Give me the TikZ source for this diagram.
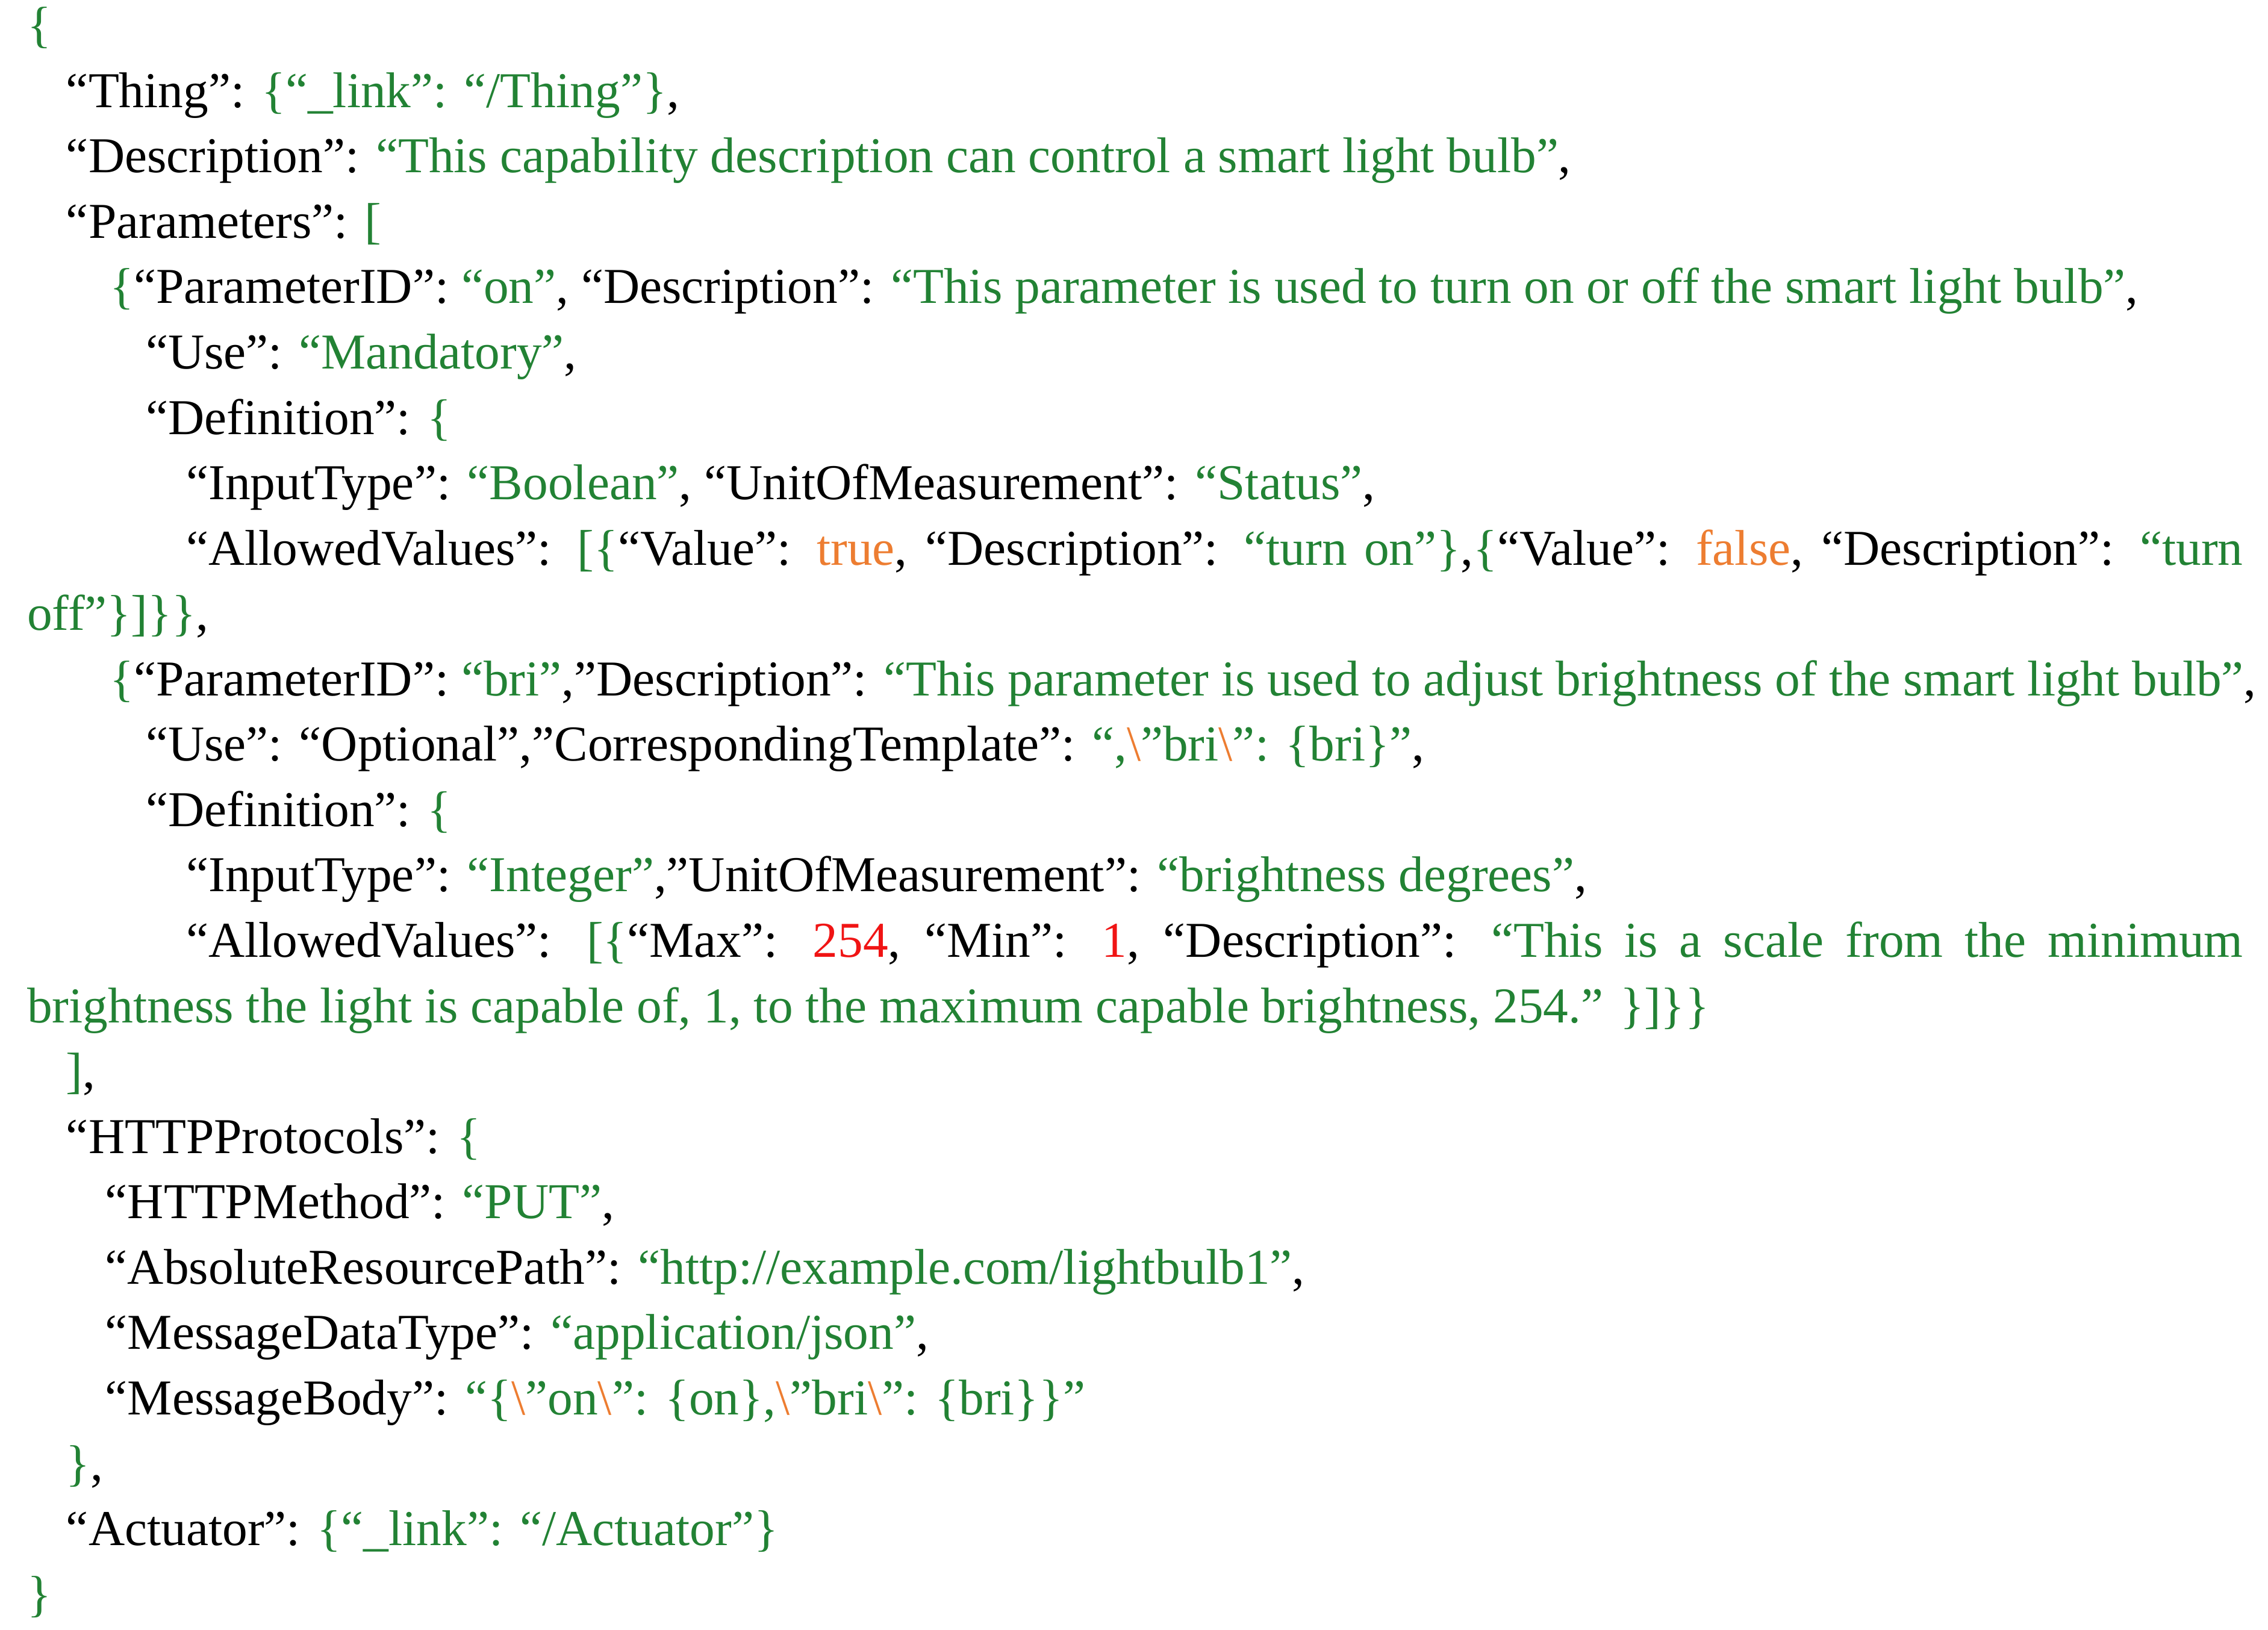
\documentclass[tikz,border=0pt]{standalone}
\usepackage{fontspec}
\setmainfont{Liberation Serif}
\definecolor{jg}{RGB}{34,130,52}
\definecolor{jo}{RGB}{237,125,49}
\definecolor{jr}{RGB}{240,20,20}
\newcommand\gq[1]{\textcolor{jg}{#1}}
\newcommand\oq[1]{\textcolor{jo}{#1}}
\newcommand\redq[1]{\textcolor{jr}{#1}}
\newcommand\bsl{\textbackslash}
\begin{document}
\begin{tikzpicture}[x=0.25pt,y=-0.25pt,
  ln/.style={anchor=base west,inner sep=0pt,font=\fontsize{8.68pt}{10pt}\selectfont}]
\useasboundingbox (0,0) rectangle (1568,1127);
\def\L#1{\fpeval{18+45.2*(#1-1)+11}}
\node[ln] (l1) at (18,{\L{1}}) {\gq{\{}};
\node[ln] (l2) at (45,{\L{2}}) {“Thing”: \gq{\{“\_link”: “/Thing”\}},};
\node[ln] (l3) at (45,{\L{3}}) {“Description”: \gq{“This capability description can control a smart light bulb”},};
\node[ln] (l4) at (45,{\L{4}}) {“Parameters”: \gq{[}};
\node[ln] (l5) at (75,{\L{5}}) {\gq{\{}“ParameterID”: \gq{“on”}, “Description”: \gq{“This parameter is used to turn on or off the smart light bulb”},};
\node[ln] (l6) at (100,{\L{6}}) {“Use”: \gq{“Mandatory”},};
\node[ln] (l7) at (100,{\L{7}}) {“Definition”: \gq{\{}};
\node[ln] (l8) at (128,{\L{8}}) {“InputType”: \gq{“Boolean”}, “UnitOfMeasurement”: \gq{“Status”},};
\node[ln] (l9) at (128,{\L{9}}) {\hbox to 355.5pt{“AllowedValues”: \gq{[\{}“Value”: \oq{true}, “Description”: \gq{“turn on”\}},\gq{\{}“Value”: \oq{false}, “Description”: \gq{“turn}}};
\node[ln] (l10) at (18,{\L{10}}) {\gq{off”\}]\}\}},};
\node[ln] (l11) at (75,{\L{11}}) {\gq{\{}“ParameterID”: \gq{“bri”},”Description”: \gq{“This parameter is used to adjust brightness of the smart light bulb”},};
\node[ln] (l12) at (100,{\L{12}}) {“Use”: “Optional”,”CorrespondingTemplate”: \gq{“,}\oq{\bsl}\gq{”bri}\oq{\bsl}\gq{”: \{bri\}”},};
\node[ln] (l13) at (100,{\L{13}}) {“Definition”: \gq{\{}};
\node[ln] (l14) at (128,{\L{14}}) {“InputType”: \gq{“Integer”},”UnitOfMeasurement”: \gq{“brightness degrees”},};
\node[ln] (l15) at (128,{\L{15}}) {\hbox to 355.5pt{“AllowedValues”: \gq{[\{}“Max”: \redq{254}, “Min”: \redq{1}, “Description”: \gq{“This is a scale from the minimum}}};
\node[ln] (l16) at (18,{\L{16}}) {\gq{brightness the light is capable of, 1, to the maximum capable brightness, 254.” \}]\}\}}};
\node[ln] (l17) at (45,{\L{17}}) {\gq{]},};
\node[ln] (l18) at (45,{\L{18}}) {“HTTPProtocols”: \gq{\{}};
\node[ln] (l19) at (72,{\L{19}}) {“HTTPMethod”: \gq{“PUT”},};
\node[ln] (l20) at (72,{\L{20}}) {“AbsoluteResourcePath”: \gq{“http://example.com/lightbulb1”},};
\node[ln] (l21) at (72,{\L{21}}) {“MessageDataType”: \gq{“application/json”},};
\node[ln] (l22) at (72,{\L{22}}) {“MessageBody”: \gq{“\{}\oq{\bsl}\gq{”on}\oq{\bsl}\gq{”: \{on\},}\oq{\bsl}\gq{”bri}\oq{\bsl}\gq{”: \{bri\}\}”}};
\node[ln] (l23) at (45,{\L{23}}) {\gq{\}},};
\node[ln] (l24) at (45,{\L{24}}) {“Actuator”: \gq{\{“\_link”: “/Actuator”\}}};
\node[ln] (l25) at (18,{\L{25}}) {\gq{\}}};
\end{tikzpicture}
\end{document}
